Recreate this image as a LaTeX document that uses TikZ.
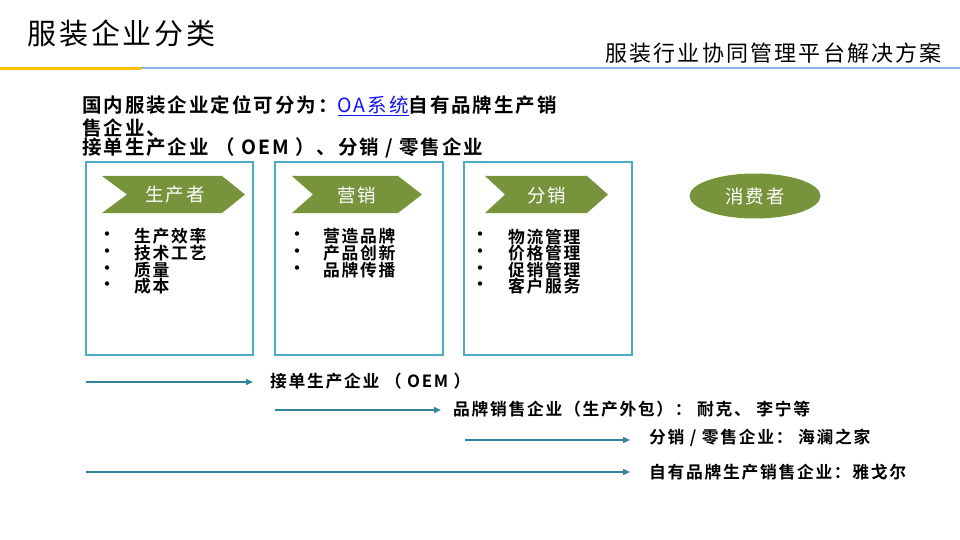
\documentclass[tikz,border=0pt]{standalone}
\usepackage{fontspec}
\usepackage{tikz}
\usetikzlibrary{arrows.meta,positioning,shapes.geometric}
\newfontfamily\cjk{Noto Sans CJK SC}[LetterSpace=10,BoldFont={Noto Sans CJK SC Bold}]
\definecolor{boxblue}{RGB}{75,172,198}
\definecolor{arrowteal}{RGB}{49,132,155}
\definecolor{chevgreen}{RGB}{119,147,60}
\definecolor{titleorange}{RGB}{255,192,0}
\definecolor{ruleblue}{RGB}{141,179,226}
\definecolor{linkblue}{RGB}{20,20,240}

\begin{document}
\begin{tikzpicture}[x=1pt, y=-1pt, every node/.style={inner sep=0pt},
    hdr/.style={anchor=west, font=\cjk\bfseries\fontsize{19.5}{20}\selectfont},
    item/.style={anchor=west, font=\cjk\bfseries\fontsize{16.8}{17}\selectfont},
    dot/.style={font=\cjk\bfseries\fontsize{17}{17}\selectfont},
    chevtxt/.style={text=white, font=\cjk\fontsize{18.5}{18.5}\selectfont},
    panel/.style={draw=boxblue, line width=2pt},
    flow/.style={arrowteal, line width=2pt, -{Triangle[length=7pt,width=6pt]}}]

\useasboundingbox (0,0) rectangle (960,540);
\fill[white] (0,0) rectangle (960,540);

% Title bar
\node[anchor=west, font=\cjk\fontsize{29}{29}\selectfont] (title) at (27,33) {服装企业分类};
\node[anchor=east, font=\cjk\fontsize{22}{22}\selectfont] (subtitle) at (942,53) {服装行业协同管理平台解决方案};
\fill[titleorange] (0,67) rectangle (141,70);
\fill[ruleblue] (141,67.5) rectangle (960,69.5);

% Intro text
\node[hdr] (hdr1) at (82,106) {国内服装企业定位可分为：{\mdseries\color{linkblue}\underline{OA系统}}自有品牌生产销};
\node[hdr] (hdr2) at (82,128) {售企业、};
\node[hdr] (hdr3) at (82,148) {接单生产企业 （ OEM ）、分销 / 零售企业};

% Three value-chain panels
\draw[panel] (86,162) rectangle (253,355);
\draw[panel] (275,162) rectangle (443,355);
\draw[panel] (464,162) rectangle (632,355);

% Chevron headers: left / notch / shoulder / tip / text centre / label / name
\foreach \l/\n/\s/\t/\c/\lab/\nm in {102/127/222/245/175/生产者/prod,
                                     292/313/398/422/357/营销/mkt,
                                     485/505/587/608/547/分销/dist} {
    \fill[chevgreen] (\l,176) -- (\s,176) -- (\t,194.5) -- (\s,213) -- (\l,213) -- (\n,194.5) -- cycle;
    \node[chevtxt] (\nm) at (\c,195) {\lab};
}

% Consumer
\node[ellipse, fill=chevgreen, minimum width=131pt, minimum height=45pt, chevtxt] (cons) at (755,196) {消费者};

% Bullet lists
\foreach \lab [count=\i] in {生产效率,技术工艺,质量,成本} {
    \node[dot] (pd\i) at (107,{220+16.6*\i}) {•};
    \node[item] (pi\i) at (134,{220+16.6*\i}) {\lab};
}
\foreach \lab [count=\i] in {营造品牌,产品创新,品牌传播} {
    \node[dot] (md\i) at (297,{220+16.6*\i}) {•};
    \node[item] (mi\i) at (323,{220+16.6*\i}) {\lab};
}
\foreach \lab [count=\i] in {物流管理,价格管理,促销管理,客户服务} {
    \node[dot] (dd\i) at (480,{220+16.6*\i}) {•};
    \node[item] (di\i) at (508,{220+16.6*\i}) {\lab};
}

% Enterprise types along the chain
\coordinate (s1) at (86,382);  \coordinate (e1) at (253,382);
\coordinate (s2) at (275,410); \coordinate (e2) at (441,410);
\coordinate (s3) at (465,440); \coordinate (e3) at (630,440);
\coordinate (s4) at (86,472);  \coordinate (e4) at (630,472);
\draw[flow] (s1) -- (e1);
\draw[flow] (s2) -- (e2);
\draw[flow] (s3) -- (e3);
\draw[flow] (s4) -- (e4);
\node[item] (oem) at (270,381) {接单生产企业 （ OEM ）};
\node[item] (brand) at (453,409) {品牌销售企业（生产外包）： 耐克、 李宁等};
\node[item] (retail) at (649,438) {分销 / 零售企业： 海澜之家};
\node[item] (own) at (649,472) {自有品牌生产销售企业：雅戈尔};

\end{tikzpicture}
\end{document}
